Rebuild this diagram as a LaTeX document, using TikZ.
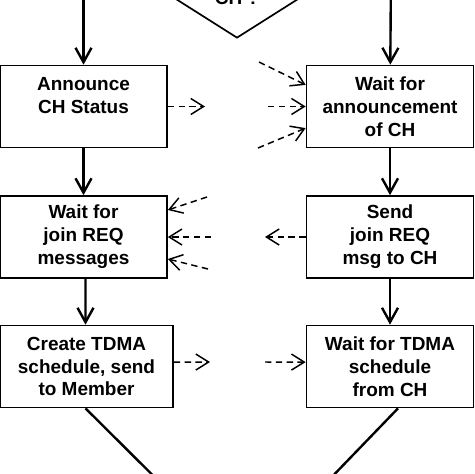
\documentclass[tikz,border=0pt]{standalone}
\usepackage{fontspec}
\setmainfont{Liberation Sans}
\usetikzlibrary{arrows.meta,shapes.geometric}

\begin{document}
\begin{tikzpicture}[x=0.25mm, y=-0.25mm,
	box/.style = {draw, line width=1.2pt, minimum width=41.75mm, minimum height=20.5mm, align=center,
		font=\fontsize{13.5}{16.3}\selectfont\bfseries},
	flow/.style = {line width=1.7pt, -{Straight Barb[length=3.6mm, width=4mm, line width=1.7pt]}},
	msg/.style = {line width=1.05pt, dash pattern=on 1.6mm off 1.1mm, -{Straight Barb[length=3.2mm, width=4mm, line width=1.05pt]}}]

	\useasboundingbox (0,0) rectangle (474,474);

	\node[draw, diamond, line width=1.2pt, minimum width=31.5mm, minimum height=20mm, inner sep=0pt,
		font=\fontsize{13.5}{16.3}\selectfont\bfseries] (q) at (237,-2) {CH ?};

	\node[box] (ann) at (83.5,106.5) {Announce\\CH Status\\\phantom{X}};
	\node[box] (wan) at (390,106.5) {Wait for\\announcement\\of CH};
	\node[box] (wjr) at (83.5,237) {Wait for\\join REQ\\messages};
	\node[box] (sjr) at (390,237) {Send\\join REQ\\msg to CH};
	\node[box, minimum width=43.25mm] (ctd) at (86.5,366.5) {Create TDMA\\schedule, send\\to Member};
	\node[box] (wtd) at (390,366.5) {Wait for TDMA\\schedule\\from CH};

	\coordinate (ltop) at (83.5,-30);
	\coordinate (rtop) at (391,-30);
	\coordinate (join) at (245,567);

	% main flow
	\draw[flow] (ltop) to (ann);
	\draw[flow] (rtop) to (wan);
	\draw[flow] (ann) to (wjr);
	\draw[flow] (wan) to (sjr);
	\draw[flow] ([xshift=0.5mm]wjr.south) to ([xshift=-0.25mm]ctd.north);
	\draw[flow] (sjr) to (wtd);
	\draw[line width=1.7pt] ([xshift=-0.25mm]ctd.south) to (join);
	\draw[line width=1.7pt] ([xshift=2mm]wtd.south) to (join);

	% messages
	\coordinate (a1) at (205,106.5);
	\coordinate (b1) at (259,62);
	\coordinate (b2) at (268,106.5);
	\coordinate (b3) at (258,148);
	\coordinate (c1) at (207,197);
	\coordinate (c2) at (211,237);
	\coordinate (c3) at (208,269);
	\coordinate (d1) at (265,237);
	\coordinate (e1) at (210,362);
	\coordinate (f1) at (265,362);

	\draw[msg] (ann) to (a1);
	\draw[msg] (b1) to ([yshift=5.4mm]wan.west);
	\draw[msg] (b2) to (wan);
	\draw[msg] (b3) to ([yshift=-5.4mm]wan.west);
	\draw[msg] (c1) to ([yshift=6.75mm]wjr.east);
	\draw[msg] (c2) to (wjr);
	\draw[msg] (c3) to ([yshift=-5.5mm]wjr.east);
	\draw[msg] (sjr) to (d1);
	\draw[msg] ([yshift=1.1mm]ctd.east) to (e1);
	\draw[msg] (f1) to ([yshift=1.1mm]wtd.west);

\end{tikzpicture}
\end{document}
